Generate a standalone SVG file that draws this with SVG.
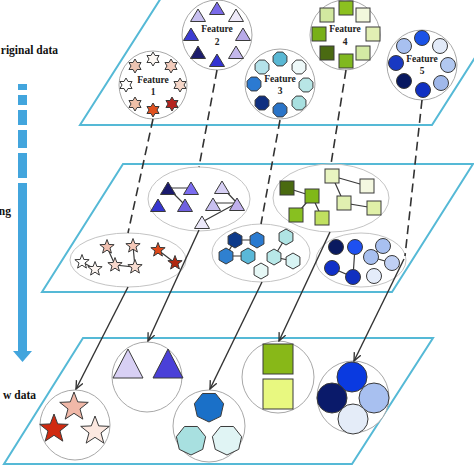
<svg xmlns="http://www.w3.org/2000/svg" width="474" height="466" viewBox="0 0 474 466">
<style>
.plane{fill:none;stroke:#55b9d6;stroke-width:2}
.ring{fill:#fff;stroke:#a8a8a8;stroke-width:1}
.ell{fill:none;stroke:#c4c4c4;stroke-width:1}
.sh{stroke:#3a3a3a;stroke-width:1}
.lk{stroke:#3a3a3a;stroke-width:1.2;fill:none}
.lab{font-family:"Liberation Serif","Times New Roman",serif;font-weight:bold;font-size:11.5px;fill:#111}
.ft{font-family:"Liberation Serif","Times New Roman",serif;font-weight:bold;font-size:9.5px;fill:#222;text-anchor:middle}
.dash{stroke:#333;stroke-width:1.6;fill:none;stroke-dasharray:9 5}
.arr{stroke:#333;stroke-width:1.4;fill:none;marker-end:url(#ah)}
.bar{fill:#42a5dd}
</style>
<defs>
<polygon id="s6" points="0,-7 2,-3.5 6.06,-3.5 4,0 6.06,3.5 2,3.5 0,7 -2,3.5 -6.06,3.5 -4,0 -6.06,-3.5 -2,-3.5"/>
<polygon id="s5" points="0,-7.5 1.85,-2.55 7.13,-2.32 2.99,0.98 4.41,6.07 0,3.15 -4.41,6.07 -2.99,0.98 -7.13,-2.32 -1.85,-2.55"/>
<polygon id="s5b" points="0,-15 3.71,-5.1 14.27,-4.64 5.99,1.95 8.82,12.14 0,6.3 -8.82,12.14 -5.99,1.95 -14.27,-4.64 -3.71,-5.1"/>
<polygon id="tr" points="0,-7 7.5,5.5 -7.5,5.5"/>
<polygon id="oc" points="6.93,2.87 2.87,6.93 -2.87,6.93 -6.93,2.87 -6.93,-2.87 -2.87,-6.93 2.87,-6.93 6.93,-2.87"/>
<polygon id="hx" points="0,-8 6.93,-4 6.93,4 0,8 -6.93,4 -6.93,-4"/>
<polygon id="hp" points="0,15 -11.73,9.35 -14.62,-3.34 -6.51,-13.51 6.51,-13.51 14.62,-3.34 11.73,9.35"/>
<rect id="sq" x="-7" y="-7" width="14" height="14"/>
<circle id="ci" r="7.5"/>
<marker id="ah" viewBox="0 0 10 10" refX="9" refY="5" markerWidth="9" markerHeight="9" markerUnits="userSpaceOnUse" orient="auto">
<path d="M0,1 L9,5 L0,9" fill="none" stroke="#333" stroke-width="1.5"/>
</marker>
</defs>
<rect width="474" height="466" fill="#fff"/>

<g id="planes">
<polygon class="plane" points="161,-2 513,-2 432,125 80,125"/>
<polygon class="plane" points="123,164 473,164 392,292 42,292"/>
<polygon class="plane" points="83,338 433,338 352,464 4,464"/>
</g>

<g id="side">
<rect class="bar" x="18" y="84" width="9" height="6"/>
<rect class="bar" x="18" y="95" width="9" height="10"/>
<rect class="bar" x="18" y="110" width="9" height="15"/>
<rect class="bar" x="18" y="130" width="9" height="18"/>
<rect class="bar" x="18" y="153" width="9" height="25"/>
<rect class="bar" x="18" y="183" width="9" height="169"/>
<polygon class="bar" points="13,351 32,351 22.5,362"/>
<text class="lab" x="58" y="54" text-anchor="end">riginal data</text>
<text class="lab" x="11" y="215" text-anchor="end">ng</text>
<text class="lab" x="36" y="399" text-anchor="end">w data</text>
</g>

<g id="feature1">
<circle class="ring" cx="153" cy="85" r="34"/>
<use href="#s6" class="sh" x="153" y="59" fill="#fdf8f4"/>
<use href="#s6" class="sh" x="171" y="66" fill="#f2cbbb"/>
<use href="#s6" class="sh" x="180" y="85" fill="#f5d6c8"/>
<use href="#s6" class="sh" x="172" y="104" fill="#b5231f"/>
<use href="#s6" class="sh" x="153" y="110" fill="#e0501e"/>
<use href="#s6" class="sh" x="135" y="104" fill="#efc0a8"/>
<use href="#s6" class="sh" x="126" y="85" fill="#ffffff"/>
<use href="#s6" class="sh" x="135" y="66" fill="#ecc4b2"/>
<text class="ft" x="153" y="83">Feature</text>
<text class="ft" x="153" y="95">1</text>
</g>

<g id="feature2">
<circle class="ring" cx="217" cy="35" r="35"/>
<use href="#tr" class="sh" x="217" y="9" fill="#7a6ae8"/>
<use href="#tr" class="sh" x="236" y="16" fill="#eeeaf9"/>
<use href="#tr" class="sh" x="243" y="35" fill="#b8aae8"/>
<use href="#tr" class="sh" x="236" y="53" fill="#c4b8ec"/>
<use href="#tr" class="sh" x="217" y="61" fill="#3232d2"/>
<use href="#tr" class="sh" x="198" y="53" fill="#1c1c6c"/>
<use href="#tr" class="sh" x="191" y="35" fill="#3c3cd2"/>
<use href="#tr" class="sh" x="198" y="16" fill="#c8c0f0"/>
<text class="ft" x="217" y="32">Feature</text>
<text class="ft" x="217" y="45">2</text>
</g>

<g id="feature3">
<circle class="ring" cx="280" cy="84" r="35"/>
<use href="#oc" class="sh" x="280" y="59" fill="#5ab8d4"/>
<use href="#oc" class="sh" x="299" y="67" fill="#eef9f9"/>
<use href="#oc" class="sh" x="306" y="85" fill="#b8e6e6"/>
<use href="#oc" class="sh" x="299" y="103" fill="#a8e0e0"/>
<use href="#oc" class="sh" x="280" y="110" fill="#2a74c8"/>
<use href="#oc" class="sh" x="262" y="103" fill="#0f2f80"/>
<use href="#oc" class="sh" x="254" y="84" fill="#2b7ad2"/>
<use href="#oc" class="sh" x="262" y="67" fill="#b4e2ea"/>
<text class="ft" x="280" y="82">Feature</text>
<text class="ft" x="280" y="94">3</text>
</g>

<g id="feature4">
<circle class="ring" cx="345" cy="35" r="35"/>
<use href="#sq" class="sh" x="346" y="8" fill="#8cc020"/>
<use href="#sq" class="sh" x="363" y="15" fill="#f2f8dc"/>
<use href="#sq" class="sh" x="373" y="34" fill="#e2f0b4"/>
<use href="#sq" class="sh" x="363" y="53" fill="#d4eaa4"/>
<use href="#sq" class="sh" x="346" y="61" fill="#80b820"/>
<use href="#sq" class="sh" x="327" y="53" fill="#4a6a12"/>
<use href="#sq" class="sh" x="319" y="34" fill="#78b018"/>
<use href="#sq" class="sh" x="327" y="15" fill="#d2e8a0"/>
<text class="ft" x="345" y="32">Feature</text>
<text class="ft" x="345" y="45">4</text>
</g>

<g id="feature5">
<circle class="ring" cx="422" cy="65" r="35"/>
<use href="#ci" class="sh" x="422" y="38" fill="#1a52e6"/>
<use href="#ci" class="sh" x="440" y="46" fill="#e2eaf8"/>
<use href="#ci" class="sh" x="448" y="65" fill="#b2c8f0"/>
<use href="#ci" class="sh" x="441" y="83" fill="#a0b8ea"/>
<use href="#ci" class="sh" x="423" y="90" fill="#1030c2"/>
<use href="#ci" class="sh" x="404" y="81" fill="#081860"/>
<use href="#ci" class="sh" x="396" y="63" fill="#1838c2"/>
<use href="#ci" class="sh" x="404" y="46" fill="#a8c0f0"/>
<text class="ft" x="422" y="62">Feature</text>
<text class="ft" x="422" y="74">5</text>
</g>

<g id="cluster1">
<ellipse class="ell" cx="128" cy="260" rx="58" ry="27"/>
<path class="lk" d="M107,247 L115,265 L135,267 L133,246 M158,250 L175,263 M82,262 L95,269"/>
<use href="#s5" class="sh" x="82" y="262" fill="#ffffff"/>
<use href="#s5" class="sh" x="95" y="269" fill="#fdf6f2"/>
<use href="#s5" class="sh" x="107" y="247" fill="#f0c0b0"/>
<use href="#s5" class="sh" x="115" y="265" fill="#f8d8cc"/>
<use href="#s5" class="sh" x="133" y="246" fill="#f5c8b8"/>
<use href="#s5" class="sh" x="135" y="267" fill="#f8dcd0"/>
<use href="#s5" class="sh" x="158" y="250" fill="#e04818"/>
<use href="#s5" class="sh" x="175" y="263" fill="#b02810"/>
</g>

<g id="cluster2">
<ellipse class="ell" cx="199" cy="199" rx="51" ry="32"/>
<path class="lk" d="M168,188 L191,188 M168,188 L185,205 M222,187 L237,203 L213,203 M237,203 L202,222"/>
<use href="#tr" class="sh" x="168" y="189" fill="#1a1a6e"/>
<use href="#tr" class="sh" x="191" y="189" fill="#7b6cf0"/>
<use href="#tr" class="sh" x="158" y="206" fill="#3535d0"/>
<use href="#tr" class="sh" x="185" y="206" fill="#7060e0"/>
<use href="#tr" class="sh" x="222" y="188" fill="#d6cff4"/>
<use href="#tr" class="sh" x="213" y="205" fill="#c8c0f0"/>
<use href="#tr" class="sh" x="237" y="205" fill="#c0b0ec"/>
<use href="#tr" class="sh" x="202" y="223" fill="#ebe8f9"/>
</g>

<g id="cluster3">
<ellipse class="ell" cx="261" cy="253" rx="49" ry="29"/>
<path class="lk" d="M235,240 L257,240 M235,240 L226,256 L248,256 M286,237 L274,257 L293,261"/>
<use href="#hx" class="sh" x="235" y="240" fill="#0d3a8a"/>
<use href="#hx" class="sh" x="257" y="240" fill="#2a7ad0"/>
<use href="#hx" class="sh" x="226" y="256" fill="#2f80d0"/>
<use href="#hx" class="sh" x="248" y="256" fill="#5ab8d8"/>
<use href="#hx" class="sh" x="286" y="237" fill="#b0e4e4"/>
<use href="#hx" class="sh" x="274" y="257" fill="#b8e8e8"/>
<use href="#hx" class="sh" x="293" y="261" fill="#d8f4f4"/>
<use href="#hx" class="sh" x="261" y="271" fill="#e6f8f6"/>
</g>

<g id="cluster4">
<ellipse class="ell" cx="331" cy="198" rx="58" ry="34"/>
<path class="lk" d="M287,188 L312,196 L296,215 M312,196 L322,218 M332,176 L367,186 M332,176 L344,203 L374,208"/>
<use href="#sq" class="sh" x="287" y="188" fill="#4a6a10"/>
<use href="#sq" class="sh" x="312" y="196" fill="#80b818"/>
<use href="#sq" class="sh" x="296" y="215" fill="#88c020"/>
<use href="#sq" class="sh" x="322" y="218" fill="#c0e060"/>
<use href="#sq" class="sh" x="332" y="176" fill="#e8f4c0"/>
<use href="#sq" class="sh" x="367" y="186" fill="#f4f8e0"/>
<use href="#sq" class="sh" x="344" y="203" fill="#e0f0b0"/>
<use href="#sq" class="sh" x="374" y="208" fill="#e0f0a8"/>
</g>

<g id="cluster5">
<ellipse class="ell" cx="361" cy="260" rx="45" ry="27"/>
<path class="lk" d="M355,247 L353,277 L332,268 M383,246 L371,257 L392,263"/>
<use href="#ci" class="sh" x="336" y="247" fill="#0a1a60"/>
<use href="#ci" class="sh" x="355" y="247" fill="#1e50f0"/>
<use href="#ci" class="sh" x="332" y="268" fill="#1030c8"/>
<use href="#ci" class="sh" x="353" y="277" fill="#1030c0"/>
<use href="#ci" class="sh" x="383" y="246" fill="#a8c0f0"/>
<use href="#ci" class="sh" x="371" y="257" fill="#a8c0f0"/>
<use href="#ci" class="sh" x="392" y="263" fill="#c0d0f4"/>
<use href="#ci" class="sh" x="374" y="276" fill="#e4ecfa"/>
</g>

<g id="new1">
<circle class="ring" cx="75" cy="425" r="35"/>
<use href="#s5b" class="sh" x="74" y="407" fill="#f0b8a8"/>
<use href="#s5b" class="sh" x="54" y="429" fill="#d02a10"/>
<use href="#s5b" class="sh" x="95" y="431" fill="#fce8e0"/>
</g>

<g id="new2">
<circle class="ring" cx="147" cy="377" r="35"/>
<polygon class="sh" points="128,349 143,378 113,378" fill="#d8d0f4"/>
<polygon class="sh" points="168,349 183,378 153,378" fill="#4a40d8"/>
</g>

<g id="new3">
<circle class="ring" cx="209" cy="426" r="36"/>
<use href="#hp" class="sh" x="209" y="407" fill="#1a70c8"/>
<use href="#hp" class="sh" x="191" y="440" fill="#a8e0e0"/>
<use href="#hp" class="sh" x="227" y="440" fill="#e0f4f4"/>
</g>

<g id="new4">
<circle class="ring" cx="278" cy="377" r="36"/>
<rect class="sh" x="263" y="344" width="30" height="30" fill="#88b818"/>
<rect class="sh" x="263" y="379" width="30" height="30" fill="#e8f880"/>
</g>

<g id="new5">
<circle class="ring" cx="353" cy="397" r="36"/>
<circle class="sh" cx="352" cy="377" r="15" fill="#0a3ae0"/>
<circle class="sh" cx="332" cy="398" r="15" fill="#0a1a6a"/>
<circle class="sh" cx="374" cy="398" r="15" fill="#a8c0f0"/>
<circle class="sh" cx="353" cy="419" r="15" fill="#e4ecf8"/>
</g>

<g id="connectors">
<path class="dash" d="M153,119 L128,233"/>
<path class="dash" d="M217,70 L199,167"/>
<path class="dash" d="M280,120 L261,224"/>
<path class="dash" d="M346,70 L331,164"/>
<path class="dash" d="M422,100 L405,256"/>
<path class="arr" d="M128,287 L76,389"/>
<path class="arr" d="M199,230 L148,341"/>
<path class="arr" d="M262,282 L210,389"/>
<path class="arr" d="M330,232 L279,341"/>
<path class="arr" d="M404,259 L354,361"/>
</g>
</svg>
